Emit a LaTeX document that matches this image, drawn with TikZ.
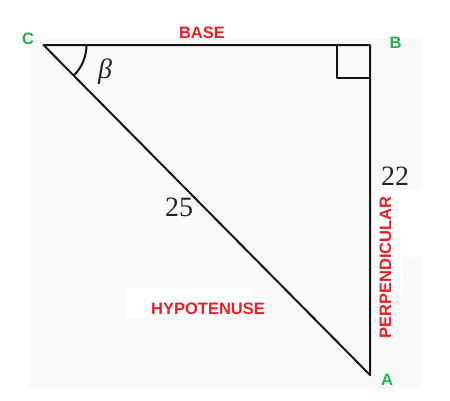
\documentclass[tikz,border=0pt]{standalone}
\usepackage{fontspec}
\setmainfont{Liberation Serif}
\setsansfont{Liberation Sans}

\definecolor{tred}{HTML}{ED1C24}
\definecolor{tgreen}{HTML}{22B14C}
\definecolor{tgrey}{HTML}{F9F9F9}

\tikzset{
  vertex/.style={text=tgreen, font=\sffamily\bfseries\fontsize{16.5}{18}\selectfont},
  sidename/.style={text=tred, font=\sffamily\bfseries\fontsize{16.5}{18}\selectfont},
  measure/.style={text=black!85, font=\fontsize{28}{30}\selectfont},
  side/.style={line width=2pt, line join=round, color=black!92}
}

\begin{document}
\begin{tikzpicture}[x=1pt, y=-1pt]
        \useasboundingbox (0,0) rectangle (450,400);
        \fill[tgrey] (29,38) rectangle (421,389);
        \fill[white] (126,288) rectangle (252,318);
        \fill[white] (375,190) rectangle (402,295);
        \fill[white] (402,190) rectangle (421,257);

        \coordinate (C) at (43.5,45);
        \coordinate (B) at (370,45);
        \coordinate (A) at (370,375);

        \draw[side] (C) -- (B) -- (A) -- cycle;
        \draw[side] (B) ++(-33,0) -- ++(0,33) -- ++(33,0);
        \draw[side] (C) ++(43,0) arc[start angle=0, end angle=45.3, radius=43];

        \node[vertex] (c) at (28,38.5) {C};
        \node[vertex] (b) at (395.5,43) {B};
        \node[vertex] (a) at (387,380) {A};

        \node[sidename] (base) at (202,32.5) {BASE};
        \node[sidename] (hyp) at (208,308.5) {HYPOTENUSE};
        \node[sidename, rotate=90] (perp) at (385.5,267.5) {PERPENDICULAR};

        \node[measure] (beta) at (105,72) {\itshape β};
        \node[measure] (hyplen) at (179,207.5) {25};
        \node[measure] (perplen) at (395,176) {22};
\end{tikzpicture}
\end{document}
